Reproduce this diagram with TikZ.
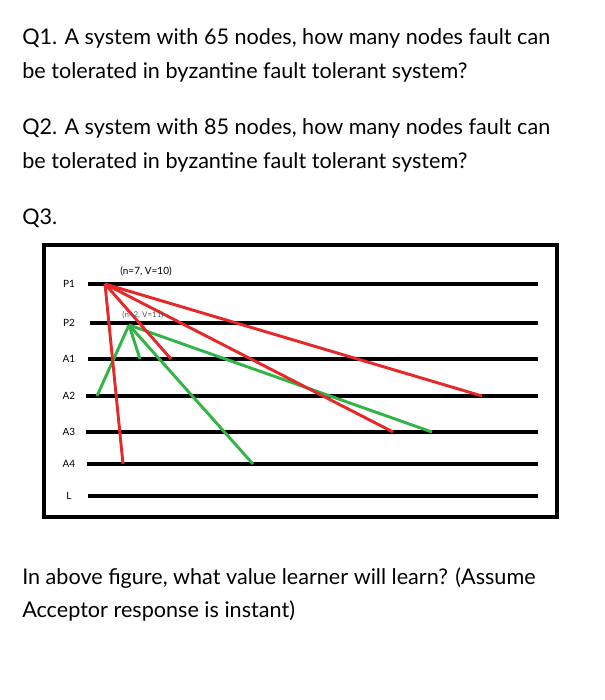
\documentclass[tikz,border=0pt]{standalone}
\usepackage{fontspec}
\setmainfont{Lato}
\definecolor{myred}{RGB}{230,40,40}
\definecolor{mygreen}{RGB}{50,180,70}
\begin{document}
\begin{tikzpicture}[x=0.75pt,y=-0.75pt,
  qtext/.style={anchor=west,inner sep=0,font=\fontsize{16.2}{19}\selectfont},
  lane/.style={line width=2.6pt},
  lbl/.style={font=\fontsize{7.5}{9}\selectfont,inner sep=0},
  redmsg/.style={myred,line width=2.2pt},
  greenmsg/.style={mygreen,line width=2.2pt}]
\useasboundingbox (0,0) rectangle (605,700);
\node[qtext] (q1a) at (22,38) {Q1. A system with 65 nodes, how many nodes fault can};
\node[qtext] (q1b) at (22,72) {be tolerated in byzantine fault tolerant system?};
\node[qtext] (q2a) at (22,128) {Q2. A system with 85 nodes, how many nodes fault can};
\node[qtext] (q2b) at (22,162) {be tolerated in byzantine fault tolerant system?};
\node[qtext] (q3) at (22,218) {Q3.};
\node[qtext] (f1) at (22,578) {In above figure, what value learner will learn? (Assume};
\node[qtext] (f2) at (22,611) {Acceptor response is instant)};
\draw[line width=2.6pt] (44,245) rectangle (557,517);
\foreach \n/\y/\xs in {P1/284/88, P2/323/90, A1/359/88, A2/396/86, A3/432/86, A4/464/87, L/496/88}{
  \node[lbl] (lab\n) at (69,\y) {\n};
  \coordinate (s\n) at (\xs,\y);
  \coordinate (e\n) at (538,\y);
  \draw[lane] (s\n) -- (e\n);
}
\coordinate (r0) at (105,284);
\coordinate (ra4) at (123,464);
\coordinate (ra1) at (171,359);
\coordinate (ra3) at (393,432);
\coordinate (ra2) at (482,396);
\coordinate (g0) at (129,325);
\coordinate (ga2) at (97,396);
\coordinate (ga1) at (140,359);
\coordinate (ga4) at (253,464);
\coordinate (ga3) at (432,432);
\foreach \e in {ga2,ga1,ga4,ga3} \draw[greenmsg] (g0) -- (\e);
\foreach \e in {ra4,ra1,ra3,ra2} \draw[redmsg] (r0) -- (\e);
\node[lbl] (v1) at (146,271) {(n=7, V=10)};
\node[lbl,font=\fontsize{6}{7}\selectfont,gray!70!black] (v2) at (143,315) {(n=2, V=11)};
\end{tikzpicture}
\end{document}
